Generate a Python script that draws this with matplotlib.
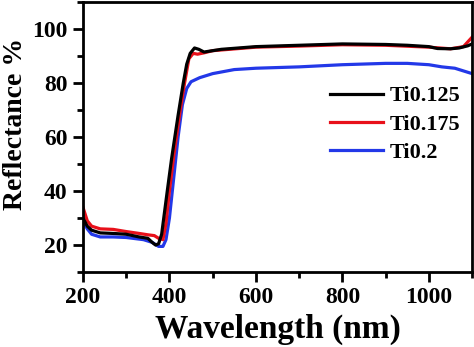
import matplotlib
matplotlib.use("Agg")
import matplotlib.pyplot as plt
from matplotlib.ticker import MultipleLocator

plt.rcParams['font.family'] = ['Liberation Serif', 'DejaVu Serif']
plt.rcParams['font.weight'] = 'bold'

# Ti0.125 (black)
w_black = [200, 210, 220, 240, 270, 300, 330, 350, 360, 368, 375, 382, 395, 405, 420, 432, 440,
           448, 458, 468, 480, 500, 520, 600, 700, 800, 900, 950, 1000, 1020, 1050, 1070, 1090, 1100]
r_black = [30, 27, 25.5, 24.5, 24.3, 24, 23, 22.5, 21, 20, 20.5, 24, 40, 52, 68, 80, 87,
           91, 93, 92.5, 91.5, 92, 92.5, 93.5, 94, 94.5, 94.3, 94, 93.5, 92.8, 92.7, 93, 93.8, 94.5]

# Ti0.175 (red)
w_red = [200, 210, 220, 240, 270, 300, 330, 350, 365, 375, 385, 392, 400, 410, 425, 435, 445,
         455, 465, 480, 500, 600, 700, 800, 900, 1000, 1050, 1080, 1100]
r_red = [34, 29, 27, 26, 25.8, 25, 24.3, 23.8, 23.5, 22.5, 22, 28, 40, 53, 70, 80, 89,
         91, 90.7, 91.2, 92, 93.3, 93.7, 94.2, 94, 93.3, 92.7, 93.5, 97]

# Ti0.2 (blue)
w_blue = [200, 210, 220, 240, 270, 300, 340, 360, 375, 385, 392, 400, 410, 420, 430, 440, 450,
          470, 500, 550, 600, 700, 800, 900, 950, 1000, 1030, 1060, 1080, 1100]
r_blue = [29, 26, 24, 23, 23, 22.8, 22, 21, 19.5, 19.5, 22, 30, 45, 60, 72, 78, 80.5,
          82, 83.5, 85, 85.5, 86, 86.8, 87.3, 87.3, 86.8, 86, 85.5, 84.5, 83.5]

labels = ['Ti0.125', 'Ti0.175', 'Ti0.2']

fig = plt.figure(figsize=(4.74, 3.47), dpi=100)
ax = fig.add_axes([0.175, 0.216, 0.821, 0.778])

ax.plot(w_black, r_black, color='black', lw=2.3, label=labels[0], zorder=3)
ax.plot(w_red, r_red, color='#e8101a', lw=2.3, label=labels[1], zorder=2)
ax.plot(w_blue, r_blue, color='#2338e8', lw=2.3, label=labels[2], zorder=1)

ax.set_xlim(200, 1100)
ax.set_ylim(10, 110)
ax.xaxis.set_major_locator(MultipleLocator(200))
ax.xaxis.set_minor_locator(MultipleLocator(100))
ax.yaxis.set_minor_locator(MultipleLocator(10))
ax.set_yticks([20, 40, 60, 80, 100])

for s in ax.spines.values():
    s.set_linewidth(2.0)
ax.tick_params(which='major', direction='out', length=7, width=2, labelsize=17, pad=4)
ax.tick_params(which='minor', direction='out', length=4, width=2)
for lab in ax.get_xticklabels() + ax.get_yticklabels():
    lab.set_fontweight('bold')

ax.set_xlabel('Wavelength (nm)', fontsize=24, fontweight='bold', labelpad=4)
ax.set_ylabel('Reflectance %', fontsize=20, fontweight='bold')
ax.yaxis.set_label_coords(-0.14, 0.55)

leg = ax.legend(loc='upper left', bbox_to_anchor=(0.635, 0.69), frameon=False,
                fontsize=16, handlelength=2.4, handletextpad=0.3, labelspacing=0.35,
                borderaxespad=0, borderpad=0)
for t in leg.get_texts():
    t.set_fontweight('bold')

fig.savefig('out.png', dpi=100)
